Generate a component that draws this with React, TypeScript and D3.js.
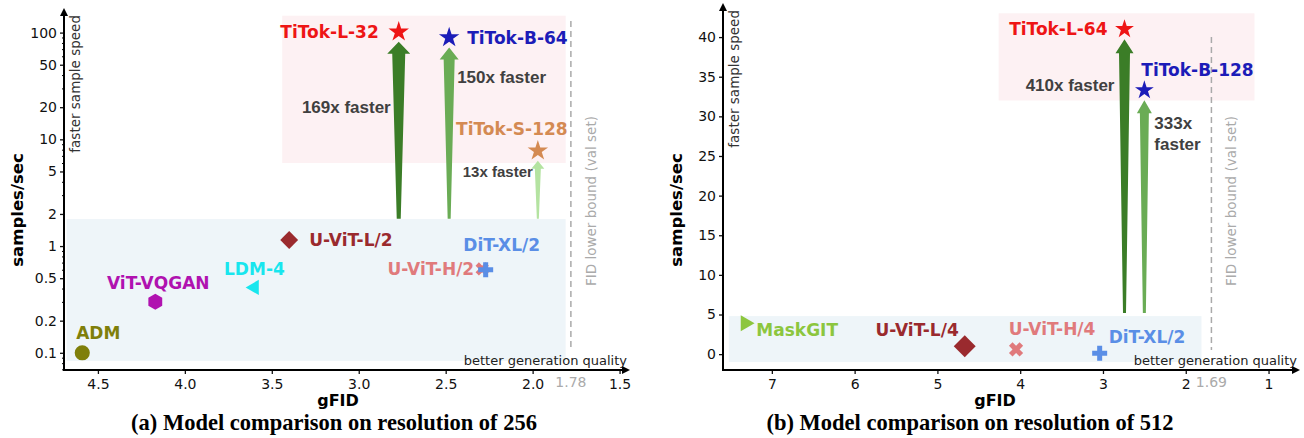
import React, { useRef, useEffect } from "react";
import * as d3 from "d3";

// (a) resolution 256
const modelsA = ["ADM", "ViT-VQGAN", "LDM-4", "U-ViT-L/2", "U-ViT-H/2", "DiT-XL/2", "TiTok-L-32", "TiTok-B-64", "TiTok-S-128"];
const gfidA = [4.59, 4.17, 3.6, 3.4, 2.29, 2.27, 2.77, 2.48, 1.97];
const speedA = [0.1, 0.3, 0.41, 1.14, 0.61, 0.6, 101.6, 89.8, 7.8];
const arrowModelsA = ["TiTok-L-32", "TiTok-B-64", "TiTok-S-128"];
const arrowTextA = ["169x faster", "150x faster", "13x faster"];
const xTicksA = [4.5, 4.0, 3.5, 3.0, 2.5, 2.0, 1.5];
const yTicksA = [0.1, 0.2, 0.5, 1, 2, 5, 10, 20, 50, 100];
const fidBoundA = 1.78;

// (b) resolution 512
const modelsB = ["MaskGIT", "U-ViT-L/4", "U-ViT-H/4", "DiT-XL/2", "TiTok-L-64", "TiTok-B-128"];
const gfidB = [7.32, 4.67, 4.05, 3.04, 2.74, 2.5];
const speedB = [3.9, 1.0, 0.6, 0.1, 41.0, 33.3];
const arrowModelsB = ["TiTok-L-64", "TiTok-B-128"];
const arrowTextB = ["410x faster", "333x\nfaster"];
const xTicksB = [7, 6, 5, 4, 3, 2, 1];
const yTicksB = [0, 5, 10, 15, 20, 25, 30, 35, 40];
const fidBoundB = 1.69;

// marker / label styling per model
const style = {
  "ADM": { c: "#7f7f0a", s: "circle", z: 180, dx: 16, dy: -20, a: "middle" },
  "ViT-VQGAN": { c: "#b012b0", s: "hexagon", z: 8, dx: 3, dy: -19, a: "middle" },
  "LDM-4": { c: "#18e6ee", s: "tri-left", z: 100, dx: 0, dy: -19, a: "middle" },
  "U-ViT-L/2": { c: "#9a2a2e", s: "diamond", z: 160, dx: 20, dy: 0, a: "start" },
  "U-ViT-H/2": { c: "#e07a7c", s: "x", z: 110, dx: -8, dy: 0, a: "end" },
  "DiT-XL/2": { c: "#5a8ee6", s: "plus", z: 125, dx: 16, dy: -25, a: "middle" },
  "TiTok-L-32": { c: "#ee1515", s: "star", z: 130, dx: -20, dy: 0, a: "end" },
  "TiTok-B-64": { c: "#1c1cb8", s: "star", z: 130, dx: 18, dy: 0, a: "start" },
  "TiTok-S-128": { c: "#d48a52", s: "star", z: 130, dx: -26, dy: -22, a: "middle" },
  "MaskGIT": { c: "#8cc63e", s: "tri-right", z: 110, dx: 11, dy: 7, a: "start" },
  "U-ViT-L/4": { c: "#9a2a2e", s: "diamond", z: 240, dx: -6, dy: -16, a: "end" },
  "U-ViT-H/4": { c: "#e07a7c", s: "x", z: 125, dx: 36, dy: -21, a: "middle" },
  "DiT-XL/2 ": { c: "#5a8ee6", s: "plus", z: 125, dx: 9, dy: -16, a: "start" },
  "TiTok-L-64": { c: "#ee1515", s: "star", z: 110, dx: -17, dy: 0, a: "end" },
  "TiTok-B-128": { c: "#1c1cb8", s: "star", z: 110, dx: -3, dy: -20, a: "start" },
};

const markerPath = (shape, size) => {
  if (shape === "hexagon") {
    const pts = d3.range(6).map((k) => {
      const t = ((-90 + 60 * k) * Math.PI) / 180;
      return [size * Math.cos(t), size * Math.sin(t)];
    });
    return { d: "M" + pts.join("L") + "Z", rot: 0 };
  }
  const map = {
    circle: [d3.symbolCircle, 0],
    "tri-left": [d3.symbolTriangle, -90],
    "tri-right": [d3.symbolTriangle, 90],
    diamond: [d3.symbolSquare, 45],
    x: [d3.symbolCross, 45],
    plus: [d3.symbolCross, 0],
    star: [d3.symbolStar, 0],
  };
  const [sym, rot] = map[shape];
  return { d: d3.symbol(sym, size)(), rot };
};

const arrowPoly = (x, y0, y1, w) => {
  const [base, neck, head, hl] = w;
  return [
    [x - base / 2, y0],
    [x - neck / 2, y1 + hl],
    [x - head / 2, y1 + hl],
    [x, y1],
    [x + head / 2, y1 + hl],
    [x + neck / 2, y1 + hl],
    [x + base / 2, y0],
  ];
};

const drawPanel = (svg, cfg) => {
  const { x, y, models, gfid, speed, xTicks, yTicks, yMinor, fidBound, regions, arrows, caption, keyFix } = cfg;
  const g = svg.append("g");
  const [xl, xr] = x.range();
  const y0 = y(y.domain()[0]);
  const yTop = y(y.domain()[1]);
  const ax0 = xl;
  const axR = xr;

  // shaded regions
  regions.forEach((r) => {
    g.append("rect")
      .attr("x", x(r.x0))
      .attr("y", y(r.y1))
      .attr("width", x(r.x1) - x(r.x0))
      .attr("height", y(r.y0) - y(r.y1))
      .attr("fill", r.fill);
  });

  // FID lower bound
  g.append("line")
    .attr("x1", x(fidBound)).attr("x2", x(fidBound))
    .attr("y1", cfg.boundTop).attr("y2", y0 - 20)
    .attr("stroke", "#aaaaaa").attr("stroke-width", 1.5)
    .attr("stroke-dasharray", "6,4");
  g.append("text")
    .attr("transform", `translate(${x(fidBound) + 25},${201}) rotate(-90)`)
    .attr("text-anchor", "middle")
    .style("font", "13.5px 'DejaVu Sans'")
    .attr("fill", "#aaaaaa")
    .text("FID lower bound (val set)");

  // arrows
  arrows.forEach((a) => {
    const i = models.indexOf(a.model);
    const px = x(gfid[i]);
    const tip = y(speed[i]) + 10;
    g.append("path")
      .attr("d", "M" + arrowPoly(px, y(a.from), tip, a.w).join("L") + "Z")
      .attr("fill", a.color);
    a.text.split("\n").forEach((t, k) => {
      g.append("text")
        .attr("x", px + a.dx)
        .attr("y", y(speed[i]) + a.dy + k * 21)
        .attr("dy", "0.35em")
        .attr("text-anchor", a.anchor)
        .style("font", `bold ${a.fs}px 'Liberation Sans', Arial, sans-serif`)
        .attr("fill", "#404040")
        .text(t);
    });
  });

  // axes
  const yAxis = d3.axisLeft(y).tickValues(yTicks).tickSize(4).tickPadding(3)
    .tickFormat((d) => d3.format("~g")(d));
  const ya = g.append("g").attr("transform", `translate(${ax0},0)`).call(yAxis);
  ya.select(".domain").remove();
  if (yMinor.length) {
    const ym = g.append("g").attr("transform", `translate(${ax0},0)`)
      .call(d3.axisLeft(y).tickValues(yMinor).tickSize(2).tickFormat(""));
    ym.select(".domain").remove();
  }
  const xAxis = d3.axisBottom(x).tickValues(xTicks).tickSize(4).tickPadding(5)
    .tickFormat(cfg.xFormat);
  const xa = g.append("g").attr("transform", `translate(0,${y0})`).call(xAxis);
  xa.select(".domain").remove();
  [ya, xa].forEach((a) => {
    a.selectAll("text").style("font", "14px 'DejaVu Sans'").attr("fill", "#111");
    a.selectAll("line").attr("stroke", "#111").attr("stroke-width", 1.3);
  });
  g.append("text")
    .attr("x", x(fidBound)).attr("y", y0 + 17)
    .attr("text-anchor", "middle")
    .style("font", "14px 'DejaVu Sans'")
    .attr("fill", "#aaaaaa")
    .text(fidBound);

  g.append("line").attr("x1", ax0).attr("x2", ax0).attr("y1", y0 + 1).attr("y2", yTop + 6)
    .attr("stroke", "#000").attr("stroke-width", 2);
  g.append("line").attr("x1", ax0 - 1).attr("x2", axR - 6).attr("y1", y0).attr("y2", y0)
    .attr("stroke", "#000").attr("stroke-width", 2);
  g.append("path").attr("d", `M${ax0 - 4},${yTop + 8}L${ax0},${yTop}L${ax0 + 4},${yTop + 8}Z`).attr("fill", "#000");
  g.append("path").attr("d", `M${axR - 8},${y0 - 4}L${axR},${y0}L${axR - 8},${y0 + 4}Z`).attr("fill", "#000");

  g.append("text")
    .attr("transform", `translate(${ax0 + 16},${yTop + 7}) rotate(-90)`)
    .attr("text-anchor", "end")
    .style("font", "13.5px 'DejaVu Sans'")
    .attr("fill", "#333")
    .text("faster sample speed");
  g.append("text")
    .attr("x", axR - 3).attr("y", y0 - 5)
    .attr("text-anchor", "end")
    .style("font", "13px 'DejaVu Sans'")
    .attr("fill", "#222")
    .text("better generation quality");

  // axis titles
  g.append("text")
    .attr("transform", `translate(${ax0 - 41},${210}) rotate(-90)`)
    .attr("text-anchor", "middle")
    .style("font", "bold 16.5px 'DejaVu Sans'")
    .text("samples/sec");
  g.append("text")
    .attr("x", cfg.gfidX).attr("y", 406)
    .attr("text-anchor", "middle")
    .style("font", "bold 16px 'DejaVu Sans'")
    .text("gFID");
  g.append("text")
    .attr("x", cfg.captionX).attr("y", 430)
    .attr("text-anchor", "middle")
    .style("font", "bold 22.5px 'Liberation Serif', 'Times New Roman', serif")
    .text(caption);

  // markers + labels
  models.forEach((m, i) => {
    const st = style[m + keyFix] || style[m];
    const px = x(gfid[i]);
    const py = y(speed[i]);
    const mk = markerPath(st.s, st.z);
    g.append("path")
      .attr("d", mk.d)
      .attr("transform", `translate(${px},${py}) rotate(${mk.rot})`)
      .attr("fill", st.c);
    g.append("text")
      .attr("x", px + st.dx)
      .attr("y", py + st.dy)
      .attr("dy", "0.36em")
      .attr("text-anchor", st.a)
      .style("font", "bold 17px 'DejaVu Sans', sans-serif")
      .attr("fill", st.c)
      .text(m);
  });
};

const App = () => {
  const svgRef = useRef();

  useEffect(() => {
    const svg = d3.select(svgRef.current);
    svg.selectAll("*").remove();

    const xA = d3.scaleLinear().domain([4.695, 1.44]).range([64, 630]);
    const yA = d3.scaleLog().domain([0.069, 170]).range([370, 8]);
    const minorA = [];
    [0.1, 1, 10].forEach((b) => [3, 4, 6, 7, 8, 9].forEach((k) => minorA.push(b * k)));
    minorA.push(0.07, 0.08, 0.09);

    drawPanel(svg, {
      x: xA, y: yA,
      models: modelsA, gfid: gfidA, speed: speedA,
      xTicks: xTicksA, yTicks: yTicksA, yMinor: minorA,
      xFormat: d3.format(".1f"),
      fidBound: fidBoundA, boundTop: 21,
      regions: [
        { x0: 3.44, x1: 1.81, y0: 6, y1: 144, fill: "#fdf1f3" },
        { x0: 4.68, x1: 1.81, y0: 0.084, y1: 1.79, fill: "#eef5f9" },
      ],
      arrows: arrowModelsA.map((m, k) => ({
        model: m, text: arrowTextA[k], from: 1.8,
        color: ["#3b7d27", "#6aac55", "#b4e3a1"][k],
        w: [[4, 13, 23, 12], [3, 11, 19, 12], [2, 6, 13, 8]][k],
        dx: [-8, 8, -5][k], dy: [75, 39, 21][k],
        anchor: ["end", "start", "end"][k], fs: [17, 17, 15][k],
      })),
      caption: "(a) Model comparison on resolution of 256",
      gfidX: 338, captionX: 334, keyFix: "",
    });

    const xB = d3.scaleLinear().domain([7.59, 0.62]).range([723, 1300]);
    const yB = d3.scaleLinear().domain([-2.0, 44.3]).range([370, 3]);
    drawPanel(svg, {
      x: xB, y: yB,
      models: modelsB, gfid: gfidB, speed: speedB,
      xTicks: xTicksB, yTicks: yTicksB, yMinor: [],
      xFormat: d3.format("d"),
      fidBound: fidBoundB, boundTop: 37,
      regions: [
        { x0: 4.26, x1: 1.17, y0: 32, y1: 43, fill: "#fdf1f3" },
        { x0: 7.52, x1: 1.81, y0: -1.0, y1: 4.8, fill: "#eef5f9" },
      ],
      arrows: arrowModelsB.map((m, k) => ({
        model: m, text: arrowTextB[k], from: 5.2,
        color: ["#3b7d27", "#6aac55"][k],
        w: [[3, 11, 18, 14], [3, 9, 15, 13]][k],
        dx: [-10, 10][k], dy: [56, 33][k],
        anchor: ["end", "start"][k], fs: 17,
      })),
      caption: "(b) Model comparison on resolution of 512",
      gfidX: 995, captionX: 970, keyFix: " ",
    });
  }, []);

  return (
    <svg
      ref={svgRef}
      width={1304}
      height={438}
      style={{ position: "absolute", left: 0, top: 0, background: "#fff" }}
    ></svg>
  );
};

export default App;
